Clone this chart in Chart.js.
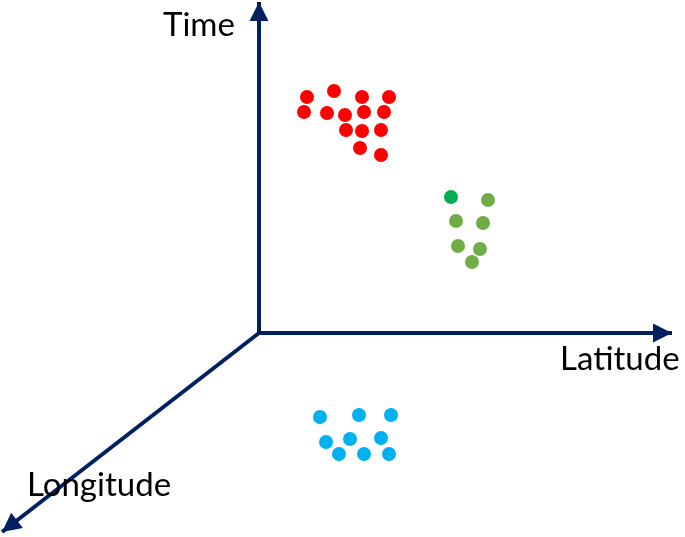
<!DOCTYPE html>
<html>
<head>
<meta charset="utf-8">
<script src="https://cdn.jsdelivr.net/npm/chart.js@4"></script>
<style>
  html, body { margin: 0; padding: 0; background: #fff; }
  #wrap { width: 685px; height: 537px; position: relative; }
</style>
</head>
<body>
<div id="wrap"><canvas id="chart"></canvas></div>
<script>
// Axis geometry (in picture units: x to the right, y downward)
const axisOrigin = { x: 259, y: 333 };
const timeTip = { x: 259, y: 2 };
const latitudeTip = { x: 672, y: 333 };
const longitudeTip = { x: 2, y: 532 };

// Axis labels
const axisLabels = ['Time', 'Latitude', 'Longitude'];
const labelX = [163, 560, 27];
const labelY = [36, 370, 496];

// Red cluster
const redX = [307, 334, 362, 389, 304, 327, 345, 364, 384, 346, 362, 381, 360, 381];
const redY = [97, 91, 97, 97, 112, 113, 115, 112, 112, 130, 131, 130, 148, 155];

// Green cluster (first point is the darker one)
const darkGreenX = [451];
const darkGreenY = [197];
const greenX = [488, 456, 483, 458, 480, 472];
const greenY = [200, 221, 223, 246, 249, 262];

// Blue cluster
const blueX = [320, 359, 391, 326, 350, 381, 339, 364, 389];
const blueY = [417, 415, 415, 442, 439, 438, 454, 454, 454];

const axisColor = '#002060';

const toPoints = (xs, ys) => xs.map((x, i) => ({ x: x, y: ys[i] }));

const axisDataset = (tip) => ({
    data: [axisOrigin, tip],
    showLine: true,
    borderColor: axisColor,
    borderWidth: 4,
    pointRadius: 0,
    arrow: true
});

const pointDataset = (xs, ys, color) => ({
    data: toPoints(xs, ys),
    showLine: false,
    backgroundColor: color,
    borderColor: color,
    borderWidth: 0,
    pointRadius: 7,
    pointHoverRadius: 7
});

// Draws an arrowhead at the last point of every dataset marked arrow: true
const arrowHeads = {
    id: 'arrowHeads',
    afterDatasetsDraw(chart) {
        const ctx = chart.ctx;
        chart.data.datasets.forEach((ds, i) => {
            if (!ds.arrow) return;
            const pts = chart.getDatasetMeta(i).data;
            const a = pts[pts.length - 2], b = pts[pts.length - 1];
            const ang = Math.atan2(b.y - a.y, b.x - a.x);
            const len = 19, half = 9.5;
            ctx.save();
            ctx.translate(b.x, b.y);
            ctx.rotate(ang);
            ctx.fillStyle = ds.borderColor;
            ctx.beginPath();
            ctx.moveTo(0, 0);
            ctx.lineTo(-len, -half);
            ctx.lineTo(-len, half);
            ctx.closePath();
            ctx.fill();
            ctx.restore();
        });
    }
};

// Axis names placed through the scales
const axisNames = {
    id: 'axisNames',
    afterDraw(chart) {
        const ctx = chart.ctx;
        const xs = chart.scales.x, ys = chart.scales.y;
        ctx.save();
        ctx.fillStyle = '#000';
        ctx.font = '33px Lato';
        ctx.textBaseline = 'alphabetic';
        ctx.textAlign = 'left';
        axisLabels.forEach((t, i) => {
            ctx.fillText(t, xs.getPixelForValue(labelX[i]), ys.getPixelForValue(labelY[i]));
        });
        ctx.restore();
    }
};

new Chart(document.getElementById('chart'), {
    type: 'scatter',
    data: {
        datasets: [
            axisDataset(timeTip),
            axisDataset(latitudeTip),
            axisDataset(longitudeTip),
            pointDataset(redX, redY, '#FF0000'),
            pointDataset(darkGreenX, darkGreenY, '#00B050'),
            pointDataset(greenX, greenY, '#70AD47'),
            pointDataset(blueX, blueY, '#00B0F0')
        ]
    },
    options: {
        responsive: true,
        maintainAspectRatio: false,
        animation: false,
        layout: { padding: 0, autoPadding: false },
        plugins: {
            legend: { display: false },
            tooltip: { enabled: false }
        },
        scales: {
            x: { type: 'linear', min: 0, max: 685, display: false },
            y: { type: 'linear', min: 0, max: 537, reverse: true, display: false }
        }
    },
    plugins: [arrowHeads, axisNames]
});
</script>
</body>
</html>
